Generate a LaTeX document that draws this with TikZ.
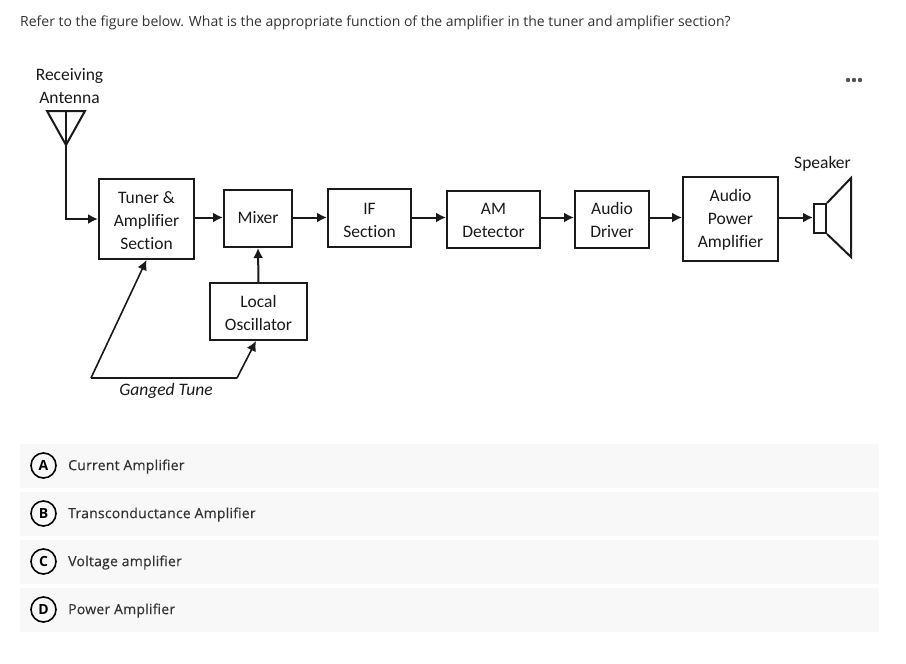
\documentclass[tikz,border=0pt]{standalone}
\usepackage{fontspec}
\setmainfont{Open Sans}
\newfontfamily\diag[Ligatures=NoCommon]{Carlito}
\usetikzlibrary{arrows.meta}
\definecolor{inkc}{HTML}{1A1A1A}
\definecolor{uic}{HTML}{333333}
\definecolor{optbg}{HTML}{F8F8F8}
\newcommand{\lowered}[2]{\raisebox{0pt}[\dimexpr\height+#1pt\relax]{\parbox{90pt}{\centering #2}}}
\tikzset{
  blockbox/.style={draw=inkc,line width=2pt,fill=white,align=center,inner sep=0pt,text=inkc,
    font=\diag\fontsize{17.5}{23}\selectfont},
  difflabel/.style={text=inkc,align=center,inner sep=0pt,font=\diag\fontsize{17.5}{23.2}\selectfont},
  wire/.style={draw=inkc,line width=2pt},
  flow/.style={wire,-{Latex[length=10pt,width=10pt]}},
  thinflow/.style={draw=inkc,line width=1.6pt,-{Latex[length=10pt,width=10pt]}},
  optbar/.style={fill=optbg,draw=none,minimum width=859pt,minimum height=44pt,inner sep=0pt},
  optmark/.style={circle,draw=black,line width=1.6pt,minimum size=25pt,inner sep=0pt,text=black,
    font=\fontsize{14}{16}\selectfont\bfseries},
  opttext/.style={anchor=west,inner sep=0pt,text=uic,font=\fontsize{14}{17}\selectfont\addfontfeature{FakeBold=0.3,LetterSpace=1.7}},
  pip/.style={circle,fill=uic!85,draw=none,minimum size=4.4pt,inner sep=0pt}
}
\begin{document}
\begin{tikzpicture}[x=1pt,y=-1pt]
\useasboundingbox (0,0) rectangle (906,664);
\fill[white] (0,0) rectangle (906,664);
\node[anchor=west,inner sep=0pt,text=uic,font=\fontsize{14}{17}\selectfont\addfontfeature{LetterSpace=-0.1}] (question) at (20,23)
  {Refer to the figure below. What is the appropriate function of the amplifier in the tuner and amplifier section?};
\node[pip] (p1) at (848,80) {};
\node[pip] (p2) at (854,80) {};
\node[pip] (p3) at (860,80) {};
\node[difflabel] (antlabel) at (69.5,86) {Receiving\\Antenna};
\node[difflabel] (spklabel) at (822.5,163.5) {Speaker};
\node[blockbox,minimum width=95pt,minimum height=80pt] (tuner) at (146.5,219) {\lowered{4}{Tuner \&\\Amplifier\\Section}};
\node[blockbox,minimum width=68pt,minimum height=57pt] (mixer) at (258,218.5) {\parbox{60pt}{\centering\vspace{-2pt}Mixer}};
\node[blockbox,minimum width=83pt,minimum height=58pt] (ifs) at (369.5,218) {\parbox{80pt}{\centering\vspace{4pt}IF\\Section}};
\node[blockbox,minimum width=93pt,minimum height=57pt] (am) at (493.5,219.5) {\lowered{2}{AM\\Detector}};
\node[blockbox,minimum width=74pt,minimum height=57pt] (drv) at (612,219.5) {\parbox{70pt}{\centering Audio\\Driver}};
\node[blockbox,minimum width=95pt,minimum height=84pt] (pwr) at (730.5,219) {\parbox{90pt}{\centering\vspace{2pt}Audio\\Power\\Amplifier}};
\node[blockbox,minimum width=97pt,minimum height=57pt] (lo) at (258.5,311.5) {\parbox{90pt}{\centering\vspace{2pt}Local\\Oscillator}};
\node[draw=inkc,line width=2pt,fill=white,minimum width=12pt,minimum height=29pt,inner sep=0pt] (spk) at (820,218.5) {};
\coordinate (anttip) at (66,145);
\coordinate (anttop) at (66,110);
\coordinate (gangl) at (91,378);
\coordinate (gangr) at (237,378);
\coordinate (rail) at (0,217.5);
\draw[wire,line join=miter] (47,111) -- (85,111) -- (anttip) -- cycle;
\draw[wire] (anttop) -- (anttip);
\draw[flow] (anttip) |- (tuner.west);
\draw[flow] (tuner.east |- rail) -- (mixer.west |- rail);
\draw[flow] (mixer.east |- rail) -- (ifs.west |- rail);
\draw[flow] (ifs.east |- rail) -- (am.west |- rail);
\draw[flow] (am.east |- rail) -- (drv.west |- rail);
\draw[flow] (drv.east |- rail) -- (pwr.west |- rail);
\draw[flow] (pwr.east |- rail) -- (spk.west |- rail);
\draw[flow] (lo.north) -- (mixer.south);
\draw[wire,line join=miter] (spk.north east) -- (851,178) -- (851,257) -- (spk.south east);
\draw[thinflow] (gangl) -- (tuner.south);
\draw[draw=inkc,line width=1.6pt] (gangl) -- (gangr);
\draw[thinflow] (gangr) -- (lo.south -| 256,0);
\node[difflabel,font=\diag\itshape\fontsize{17.5}{20}\selectfont] (gtune) at (166,390.5) {Ganged Tune};
\foreach \n/\y/\l/\t in {a/466/A/Current Amplifier,b/514/B/Transconductance Amplifier,c/562/C/Voltage amplifier,d/610/D/Power Amplifier}{
  \node[optbar] (bar\n) at (449.5,\y) {};
  \node[optmark] (mark\n) at (43.5,\y-0.5) {\l};
  \node[opttext] (txt\n) at (68,\y+0.5) {\t};
}
\end{tikzpicture}
\end{document}
